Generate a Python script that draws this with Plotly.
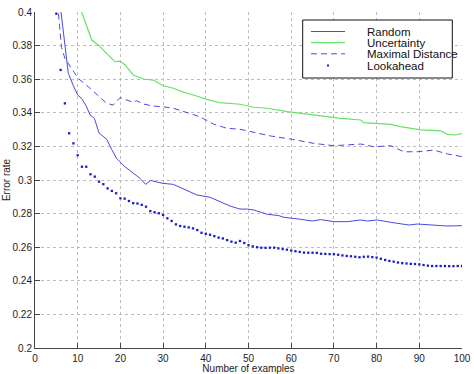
import plotly.graph_objects as go

# ---------------- data ----------------
random_x = [6, 7, 7.8, 9, 10, 10.9, 12, 12.9, 13.9, 15, 16.8, 18, 19.1, 21, 23, 24.6, 25.9, 27.1,
            28.5, 30, 32.4, 34.4, 36, 37.9, 41, 43.3, 45.7, 48, 49.7, 51.3, 54.4, 57.1, 58.3, 62.2,
            64.9, 66.9, 70, 73.1, 76.3, 77.8, 80.2, 83.3, 87.6, 89.5, 93.4, 96.6, 100]
random_y = [0.402, 0.379, 0.3635, 0.356, 0.3506, 0.3486, 0.344, 0.3387, 0.3367, 0.328, 0.3242,
            0.318, 0.3129, 0.308, 0.304, 0.301, 0.2974, 0.2998, 0.2988, 0.298, 0.2974, 0.295,
            0.293, 0.2911, 0.2897, 0.2871, 0.2845, 0.2827, 0.2827, 0.2821, 0.2796, 0.2788, 0.2778,
            0.2766, 0.2756, 0.2764, 0.2752, 0.2752, 0.2762, 0.2756, 0.2762, 0.2748, 0.2732, 0.2738,
            0.2732, 0.2726, 0.2728]

uncert_x = [10.9, 12, 13.3, 14.8, 16.8, 18.7, 19.9, 21.1, 23, 25.4, 27.7, 30, 32.4, 34.4, 37.1,
            40.2, 43.3, 46.6, 48, 51.3, 54.4, 59.1, 63.8, 67.7, 71.6, 76.3, 77, 83.3, 85.6, 90.3,
            95, 96.6, 98.5, 100]
uncert_y = [0.4, 0.392, 0.3833, 0.3804, 0.3754, 0.3704, 0.3708, 0.3685, 0.3625, 0.3601, 0.3595,
            0.3561, 0.3546, 0.3526, 0.3506, 0.348, 0.346, 0.3456, 0.3451, 0.3433, 0.3427, 0.3407,
            0.3391, 0.3381, 0.3367, 0.3357, 0.3341, 0.3331, 0.3318, 0.3298, 0.3293, 0.3272,
            0.3268, 0.3278]

maxdist_x = [5.5, 6.2, 7, 8.6, 10.1, 12.5, 15.2, 16.8, 18.3, 19.9, 21.5, 23, 23.8, 25.4, 27.7, 30,
             32.4, 34.7, 36.3, 38.6, 41.8, 44.9, 48, 51.3, 55.2, 60.3, 65.3, 70, 73.9, 76.3,
             79.4, 83.3, 86.4, 89.5, 93.4, 96.6, 100]
maxdist_y = [0.399, 0.379, 0.3724, 0.3665, 0.3605, 0.3555, 0.3496, 0.3456, 0.3446, 0.349, 0.3476,
             0.3462, 0.3472, 0.3452, 0.344, 0.3436, 0.3427, 0.3407, 0.3397, 0.3377, 0.3333,
             0.3308, 0.3302, 0.3282, 0.3262, 0.3242, 0.3218, 0.3204, 0.3208, 0.3214, 0.3198,
             0.3204, 0.3168, 0.3168, 0.3178, 0.3155, 0.3139]

look_x = list(range(5, 101))
look_y = [0.399, 0.3655, 0.3456, 0.3278, 0.3218, 0.3147, 0.3079, 0.3079, 0.3034, 0.302,
          0.299, 0.2975, 0.295, 0.2935, 0.2921, 0.2891, 0.2889, 0.2875, 0.2862, 0.286,
          0.2852, 0.2841, 0.2815, 0.2808, 0.2802, 0.2792, 0.2772, 0.2756, 0.2736, 0.2726,
          0.2722, 0.2718, 0.2712, 0.2702, 0.2686, 0.268, 0.2674, 0.2666, 0.2657, 0.2652,
          0.2642, 0.2633, 0.2627, 0.2637, 0.2625, 0.2612, 0.2605, 0.26, 0.2597, 0.2596,
          0.2597, 0.2597, 0.2593, 0.2589, 0.2585, 0.258, 0.2576, 0.2572, 0.2568, 0.2567,
          0.2567, 0.2566, 0.2561, 0.256, 0.2559, 0.2558, 0.2555, 0.2551, 0.2548, 0.2546,
          0.2543, 0.254, 0.2543, 0.2544, 0.2541, 0.2538, 0.2531, 0.2524, 0.2518, 0.2514,
          0.2509, 0.2505, 0.2503, 0.2501, 0.25, 0.2498, 0.2494, 0.249, 0.2488, 0.2488,
          0.2488, 0.2488, 0.2487, 0.2487, 0.2488, 0.2488]

x_ticks = [0, 10, 20, 30, 40, 50, 60, 70, 80, 90, 100]
y_ticks = [0.2, 0.22, 0.24, 0.26, 0.28, 0.3, 0.32, 0.34, 0.36, 0.38, 0.4]
y_tick_labels = ["0.2", "0.22", "0.24", "0.26", "0.28", "0.3", "0.32", "0.34", "0.36", "0.38", "0.4"]

series_names = ["Random", "Uncertainty", "Maximal Distance", "Lookahead"]

# ---------------- style ----------------
BLUE = "#4a4ade"
GREEN = "#66e266"
DOTBLUE = "#1c1cc4"
FONT = "Liberation Sans, Arial, sans-serif"
DASH = "6px,4px"
TXT = "#222222"

fig = go.Figure()
fig.add_trace(go.Scatter(x=random_x, y=random_y, mode="lines", name=series_names[0],
                         line=dict(color=BLUE, width=1)))
fig.add_trace(go.Scatter(x=uncert_x, y=uncert_y, mode="lines", name=series_names[1],
                         line=dict(color=GREEN, width=1.2)))
fig.add_trace(go.Scatter(x=maxdist_x, y=maxdist_y, mode="lines", name=series_names[2],
                         line=dict(color=BLUE, width=1, dash=DASH)))
fig.add_trace(go.Scatter(x=look_x, y=look_y, mode="markers", name=series_names[3],
                         marker=dict(color=DOTBLUE, size=2.3, symbol="square", line=dict(width=0)),
                         cliponaxis=True))

# ---------------- custom compact legend box (MATLAB-style) ----------------
def px2x(px):
    return (px - 35) / 427.0

def py2y(py):
    return 1 - (py - 12) / 336.0

shapes = [dict(type="rect", xref="paper", yref="paper",
               x0=px2x(302.7), x1=px2x(452.3), y0=py2y(78), y1=py2y(20),
               line=dict(color="#111111", width=1), fillcolor="white", layer="above")]
rows = [31.5, 42.6, 53.8, 65.5]
styles = [dict(color=BLUE, width=1), dict(color=GREEN, width=1.2),
          dict(color=BLUE, width=1, dash=DASH)]
for r, st in zip(rows[:3], styles):
    shapes.append(dict(type="line", xref="paper", yref="paper",
                       x0=px2x(311), x1=px2x(345), y0=py2y(r), y1=py2y(r),
                       line=st, layer="above"))
shapes.append(dict(type="rect", xref="paper", yref="paper",
                   x0=px2x(327), x1=px2x(329), y0=py2y(rows[3] + 1), y1=py2y(rows[3] - 1),
                   line=dict(width=0), fillcolor=DOTBLUE, layer="above"))

annotations = []
for r, name in zip(rows, series_names):
    annotations.append(dict(xref="paper", yref="paper", x=px2x(365), y=py2y(r),
                            xanchor="left", yanchor="middle", text=name, showarrow=False,
                            font=dict(family=FONT, size=11.5, color="#111111")))

fig.update_layout(
    width=474, height=374,
    margin=dict(l=35, r=12, t=12, b=26),
    paper_bgcolor="white", plot_bgcolor="white",
    showlegend=False,
    font=dict(family=FONT, size=10, color=TXT),
    shapes=shapes, annotations=annotations,
)
fig.update_xaxes(
    range=[0, 100], tickvals=x_ticks, ticks="inside", ticklen=5, tickcolor="#444444",
    showline=True, linecolor="#444444", linewidth=1, mirror=False, automargin=False,
    showgrid=True, gridcolor="#bdbdbd", griddash="dot", gridwidth=1, zeroline=False,
    tickfont=dict(size=10, family=FONT, color=TXT), ticklabelstandoff=1,
    title=dict(text="Number of examples", font=dict(size=10, family=FONT, color=TXT), standoff=2),
)
fig.update_yaxes(
    range=[0.2, 0.4], tickvals=y_ticks, ticktext=y_tick_labels, ticks="inside", ticklen=5,
    tickcolor="#444444", showline=True, linecolor="#444444", linewidth=1, mirror=False,
    automargin=False,
    showgrid=True, gridcolor="#bdbdbd", griddash="dot", gridwidth=1, zeroline=False,
    tickfont=dict(size=10, family=FONT, color=TXT),
    title=dict(text="Error rate", font=dict(size=10, family=FONT, color=TXT), standoff=0),
)

fig.write_html(
    "out.html",
    config={"displayModeBar": False},
    post_script="document.body.style.margin='0';document.body.style.padding='0';"
                "document.documentElement.style.overflow='hidden';",
)
